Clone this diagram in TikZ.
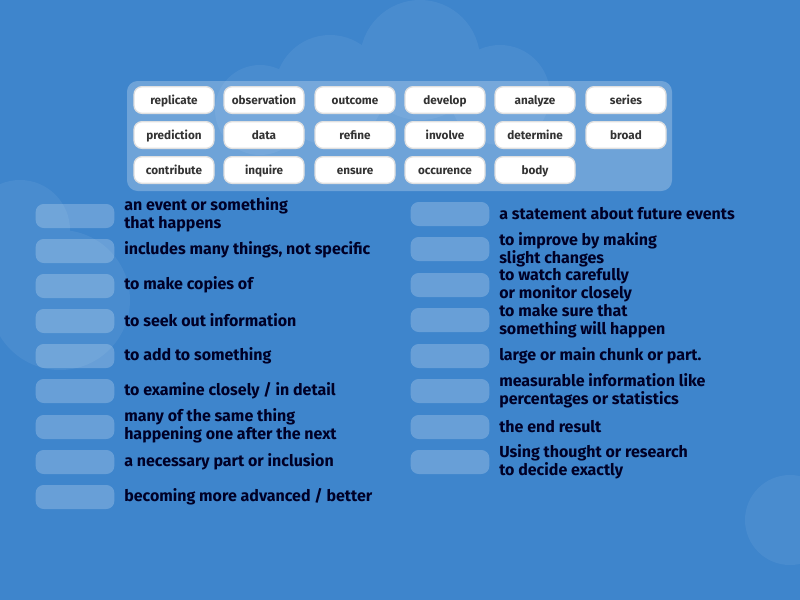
\documentclass[tikz,border=0pt]{standalone}
\usepackage{fontspec}
\setmainfont{Fira Sans}
\begin{document}
\begin{tikzpicture}[x=0.75pt,y=-0.75pt,
 tile/.style={draw=black!12,line width=1pt,fill=white,rounded corners=6pt,minimum width=60pt,minimum height=20pt,inner sep=0pt,text height=1.5ex,text depth=0.3ex,font=\fontsize{8.8}{10}\selectfont\bfseries,text=black!80},
 slot/.style={fill=white,fill opacity=0.22,rounded corners=6pt,minimum width=59pt,minimum height=18pt,inner sep=0pt},
 def/.style={anchor=west,align=left,font=\fontsize{12}{13.5}\selectfont\bfseries,text=black!85!blue,inner sep=0pt}]
\fill[fill={rgb,255:red,62;green,133;blue,204}] (0,0) rectangle (800,600);
\useasboundingbox (0,0) rectangle (800,600);
\begin{scope}[fill=white,fill opacity=0.06]
\fill (330,90) circle (55) (420,60) circle (60) (500,95) circle (50) (260,110) circle (45);
\fill (60,300) circle (70) (20,230) circle (50);
\fill (790,520) circle (45);
\end{scope}
\fill[white,fill opacity=0.25,rounded corners=8pt] (127,81) rectangle (672,191);
\foreach \t/\x/\y [count=\i] in {replicate/174/100,observation/264/100,outcome/355/100,develop/445/100,analyze/535/100,series/626/100,
 prediction/174/135,data/264/135,refine/355/135,involve/445/135,determine/535/135,broad/626/135,
 contribute/174/170,inquire/264/170,ensure/355/170,occurence/445/170,body/535/170}
 \node[tile] (w\i) at (\x,\y) {\t};
\foreach \y [count=\i] in {216,251,286,321,356,391,427,462,497} \node[slot] (l\i) at (75,\y) {};
\foreach \y [count=\i] in {214,249,285,320,356,391,427,462} \node[slot] (r\i) at (450,\y) {};
\node[def] (dl1) at (124,215) {an event or something\\that happens};
\node[def] (dl2) at (124,250) {includes many things, not specific};
\node[def] (dl3) at (124,285) {to make copies of};
\node[def] (dl4) at (124,320) {to seek out information};
\node[def] (dl5) at (124,356) {to add to something};
\node[def] (dl6) at (124,391) {to examine closely / in detail};
\node[def] (dl7) at (124,426) {many of the same thing\\happening one after the next};
\node[def] (dl8) at (124,462) {a necessary part or inclusion};
\node[def] (dl9) at (124,497) {becoming more advanced / better};
\node[def] (dr1) at (499,214) {a statement about future events};
\node[def] (dr2) at (499,250) {to improve by making\\slight changes};
\node[def] (dr3) at (499,285) {to watch carefully\\or monitor closely};
\node[def] (dr4) at (499,321) {to make sure that\\something will happen};
\node[def] (dr5) at (499,356) {large or main chunk or part.};
\node[def] (dr6) at (499,391) {measurable information like\\percentages or statistics};
\node[def] (dr7) at (499,427) {the end result};
\node[def] (dr8) at (499,462) {Using thought or research\\to decide exactly};
\end{tikzpicture}
\end{document}
